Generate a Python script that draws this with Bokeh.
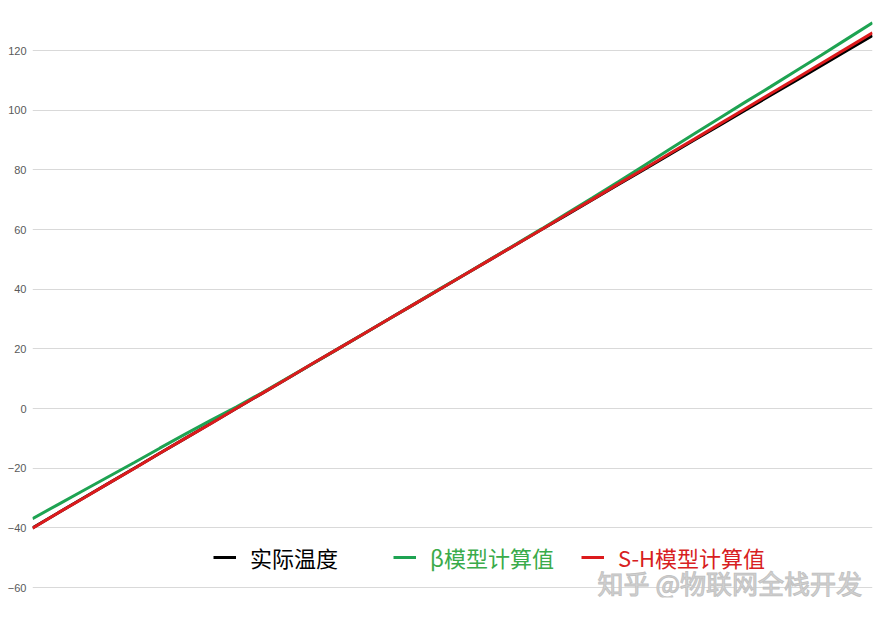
from bokeh.embed import file_html
from bokeh.models import Label, Legend, LegendItem, FixedTicker, Range1d
from bokeh.plotting import figure
from bokeh.resources import INLINE

# measured temperature steps and the two model estimates
actual_temp = [-40, -35, -30, -25, -20, -15, -10, -5, 0, 5, 10, 15, 20, 25, 30, 35, 40,
               45, 50, 55, 60, 65, 70, 75, 80, 85, 90, 95, 100, 105, 110, 115, 120, 125]
beta_model = [-36.9, -32.2, -27.5, -22.8, -18.1, -13.3, -8.6, -4.0, 0.5, 5.2, 10.1, 15.0,
              20.0, 25.0, 30.0, 35.0, 40.1, 45.0, 50.1, 55.1, 60.2, 65.4, 70.6, 75.9,
              81.3, 86.7, 92.1, 97.4, 102.7, 107.9, 113.2, 118.5, 123.9, 129.3]
sh_model = [-40.1, -35.0, -30.1, -25.0, -20.1, -15.0, -10.0, -5.1, 0.0, 5.0, 10.0, 15.1,
            20.0, 25.0, 30.0, 35.0, 40.0, 45.0, 50.0, 55.0, 60.0, 65.1, 70.1, 75.2,
            80.2, 85.3, 90.3, 95.4, 100.5, 105.6, 110.6, 115.7, 120.8, 125.9]

y_ticks = [-60, -40, -20, 0, 20, 40, 60, 80, 100, 120]
labels = ["实际温度", "β模型计算值", "S-H模型计算值"]
colors = ["#000000", "#1ea352", "#dc1a1c"]
text_colors = ["#000000", "#3aab4a", "#d81e22"]

p = figure(width=881, height=609, output_backend="svg", toolbar_location=None,
           x_range=Range1d(-40, 125), y_range=Range1d(-63.35, 134.08),
           min_border_left=32, min_border_right=9, min_border_top=8, min_border_bottom=12)
p.outline_line_color = None
p.background_fill_color = "white"
p.xaxis.visible = False
p.xgrid.visible = False
p.ygrid.grid_line_color = "#d9d9d9"
p.ygrid.grid_line_width = 1

p.yaxis.ticker = FixedTicker(ticks=y_ticks)
p.yaxis.axis_line_color = None
p.yaxis.major_tick_line_color = None
p.yaxis.minor_tick_line_color = None
p.yaxis.major_tick_out = 0
p.yaxis.major_label_standoff = 6
p.yaxis.major_label_text_font = "Liberation Sans"
p.yaxis.major_label_text_font_size = "11px"
p.yaxis.major_label_text_color = "#595959"

renderers = []
for series, c in zip([actual_temp, beta_model, sh_model], colors):
    r = p.line(actual_temp, series, line_color=c, line_width=3)
    renderers.append(r)

# one legend per entry so each label gets its own colour
legend_x = [181, 361, 549]
for r, lab, tc, lx in zip(renderers, labels, text_colors, legend_x):
    leg = Legend(items=[LegendItem(label=lab, renderers=[r])], location=(lx, 24),
                 orientation="horizontal", padding=0, margin=0, spacing=0,
                 glyph_width=23, glyph_height=26, label_height=26, label_standoff=14,
                 border_line_color=None, background_fill_alpha=0,
                 label_text_font="Noto Sans CJK SC", label_text_font_size="22px",
                 label_text_color=tc)
    p.add_layout(leg)

mark = Label(x=71.0, y=-58.4, text="知乎 @物联网全栈开发", text_baseline="middle",
             text_font="Noto Sans CJK SC", text_font_size="26px",
             text_color="#d4d4d4", text_outline_color="#c2c2c2")
p.add_layout(mark)

open("out.html", "w").write(file_html(p, INLINE))
